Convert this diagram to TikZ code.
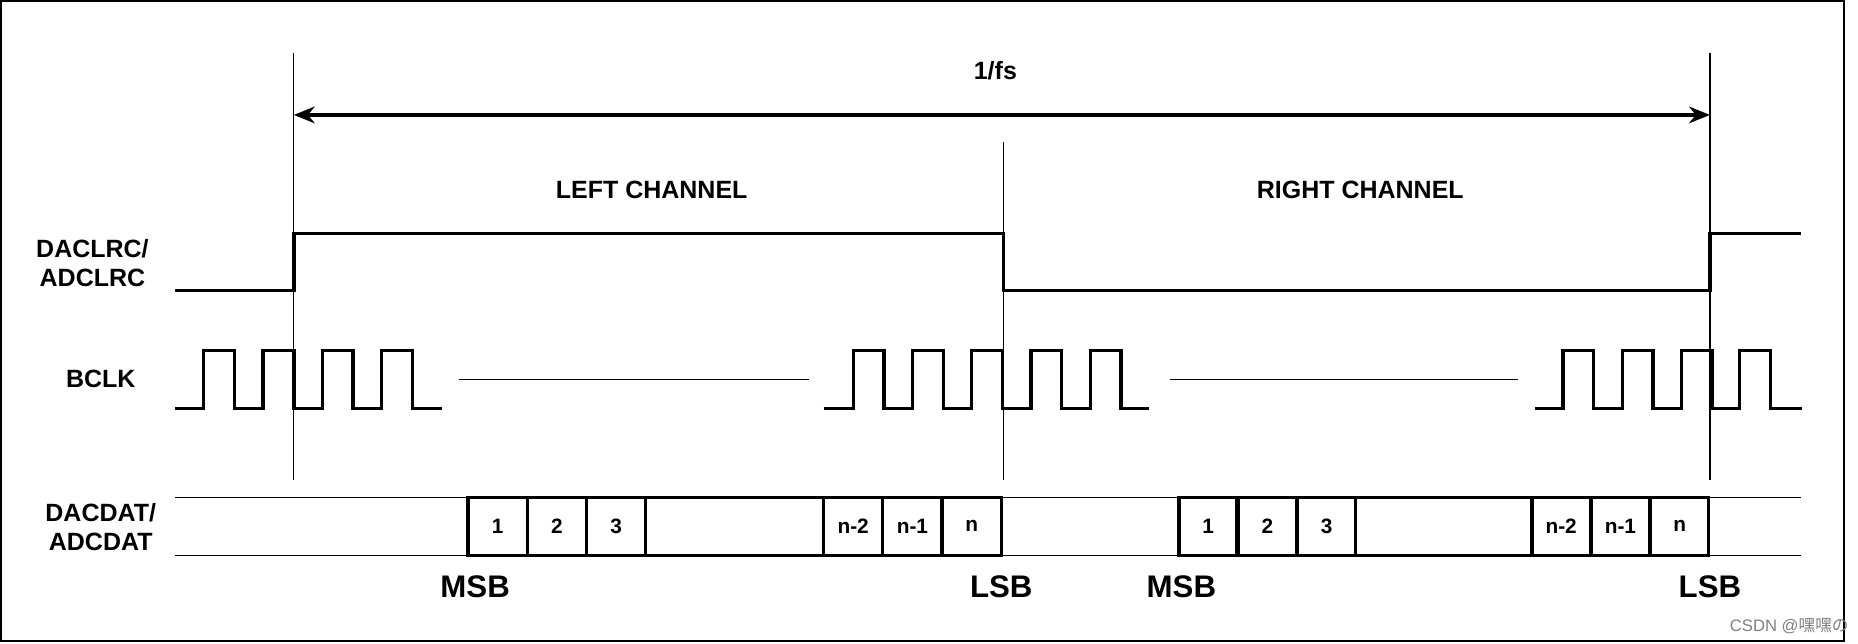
\documentclass[tikz,border=0pt]{standalone}
\usepackage{fontspec}
\usetikzlibrary{arrows.meta}
\setmainfont{Liberation Sans}
\newfontfamily\cjk{Noto Sans CJK SC}
\begin{document}
\begin{tikzpicture}[x=0.02cm,y=-0.02cm,
  sig/.style={line width=1.6pt},
  thin/.style={line width=0.6pt},
  lbl/.style={font=\bfseries\fontsize{12}{14}\selectfont,align=center},
  big/.style={font=\bfseries\fontsize{15}{17}\selectfont},
  bit/.style={font=\bfseries\fontsize{10}{12}\selectfont}]
\useasboundingbox (0,0) rectangle (1568,543);
\draw[line width=1pt] (1,1) rectangle (1556,541);
% vertical lines
\coordinate (v1t) at (248,45); \coordinate (v1b) at (248,405);
\coordinate (v2t) at (847,120); \coordinate (v2b) at (847,405);
\coordinate (v3t) at (1443,45); \coordinate (v3b) at (1443,405);
\draw[thin] (v1t)--(v1b); \draw[thin] (v2t)--(v2b); \draw[thin] (v3t)--(v3b);
\coordinate (a1) at (248,97); \coordinate (a2) at (1443,97);
\draw[sig,{Stealth[length=10pt,width=8pt]}-{Stealth[length=10pt,width=8pt]}] (a1)--(a2);
\node[lbl] (fs) at (840,60) {1/fs};
\node[lbl] (lc) at (550,160) {LEFT CHANNEL};
\node[lbl] (rc) at (1148,160) {RIGHT CHANNEL};
\node[lbl] (l1) at (78,222) {DACLRC/\\ADCLRC};
\node[lbl] (l2) at (85,320) {BCLK};
\node[lbl] (l3) at (85,445) {DACDAT/\\ADCDAT};
% LRC
\draw[sig] (148,245)--(248,245)--(248,197)--(847,197)--(847,245)--(1443,245)--(1443,197)--(1520,197);
% BCLK
\def\L{345}\def\H{296}
\draw[sig] (148,\L) foreach \r in {172,222,272,322} {-- (\r,\L) -- (\r,\H) -- (\r+26,\H) -- (\r+26,\L)} -- (373,\L);
\draw[sig] (695,\L) foreach \r in {720,770,820,870,920} {-- (\r,\L) -- (\r,\H) -- (\r+26,\H) -- (\r+26,\L)} -- (970,\L);
\draw[sig] (1295,\L) foreach \r in {1319,1369,1419,1468} {-- (\r,\L) -- (\r,\H) -- (\r+26,\H) -- (\r+26,\L)} -- (1521,\L);
\draw[thin] (387,320)--(683,320);
\draw[thin] (987,320)--(1281,320);
% DAT
\draw[thin] (148,420)--(1520,420);
\draw[thin] (148,469)--(1520,469);
\foreach \x/\t in {395/1,445/2,495/3,695/n-2,745/n-1,795/n} {
  \draw[sig] (\x,420) rectangle (\x+50,469);
  \node[bit] at (\x+25,444) {\t};}
\draw[sig] (545,420) rectangle (695,469);
\foreach \x/\t in {995/1,1045/2,1095/3,1293/n-2,1343/n-1,1393/n} {
  \draw[sig] (\x,420) rectangle (\x+49,469);
  \node[bit] at (\x+24.5,444) {\t};}
\draw[sig] (1144,420) rectangle (1293,469);
\node[big] (m1) at (401,495) {MSB};
\node[big] (s1) at (845,495) {LSB};
\node[big] (m2) at (997,495) {MSB};
\node[big] (s2) at (1443,495) {LSB};
\node[text=gray,font=\fontsize{8}{9}\selectfont] (w) at (1510,528) {CSDN @{\cjk 嘿嘿の}};
\end{tikzpicture}
\end{document}
